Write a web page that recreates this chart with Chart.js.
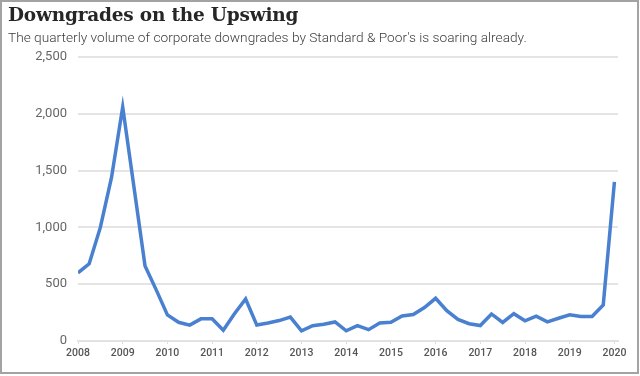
<!DOCTYPE html>
<html>
<head>
<meta charset="utf-8">
<script src="https://cdn.jsdelivr.net/npm/chart.js@4/dist/chart.umd.min.js"></script>
<style>
	body { margin: 0; background: #fff; }
	#card { position: absolute; left: 0; top: 0; width: 635px; height: 370px; border: 2px solid #a3a3a3; }
	#title { position: absolute; left: 8px; top: 5px; font: bold 18.5px/20px 'DejaVu Serif', serif; color: #262626; white-space: nowrap; letter-spacing: -0.2px; }
	#subtitle { position: absolute; left: 8px; top: 28.5px; font: 300 13.7px/16px Roboto, sans-serif; color: #3c3c3c; white-space: nowrap; }
	#wrap { position: absolute; left: 0; top: 0; width: 640px; height: 376px; }
</style>
</head>
<body>
<div id="card"></div>
<div id="wrap"><canvas id="chart"></canvas></div>
<div id="title">Downgrades on the Upswing</div>
<div id="subtitle">The quarterly volume of corporate downgrades by Standard &amp; Poor's is soaring already.</div>
<script>
// quarterly S&P corporate downgrades, 2008 Q1 .. 2020 Q1
const startYear = 2008;
const years = [2008, 2009, 2010, 2011, 2012, 2013, 2014, 2015, 2016, 2017, 2018, 2019, 2020];
const downgrades = [
	600, 680, 1000, 1440,
	2060, 1360, 660, 450,
	230, 165, 140, 195,
	195, 95, 240, 370,
	140, 158, 180, 211,
	90, 135, 148, 168,
	90, 136, 100, 158,
	164, 220, 233, 295,
	376, 267, 190, 152,
	136, 238, 163, 240,
	178, 219, 169, 200,
	230, 215, 215, 317,
	1400
];
const yTicks = [0, 500, 1000, 1500, 2000, 2500];

const points = downgrades.map((v, i) => ({ x: startYear + i / 4, y: v }));

const ctx = document.getElementById('chart');
new Chart(ctx, {
	type: 'line',
	data: {
		datasets: [
			{
				data: points,
				borderColor: '#4a80d0',
				borderWidth: 3.5,
				pointRadius: 0,
				tension: 0,
				fill: false,
			},
		],
	},
	options: {
		responsive: true,
		maintainAspectRatio: false,
		animation: false,
		layout: { padding: { top: 57, right: 22, bottom: 15, left: 0 } },
		plugins: { legend: { display: false }, tooltip: { enabled: false } },
		scales: {
			x: {
				type: 'linear',
				min: 2008,
				max: 2020.08,
				afterBuildTicks: (scale) => {
					scale.ticks = years.map((y) => ({ value: y }));
				},
				afterFit: (scale) => {
					scale.height = 20;
				},
				grid: { drawOnChartArea: false, drawTicks: true, tickLength: 3, color: '#dedede' },
				border: { display: true, color: '#e2e2e2', width: 2 },
				ticks: {
					padding: 3,
					color: '#555',
					font: { family: 'Roboto', size: 10.5, weight: '500' },
					callback: (v) => String(v),
					maxRotation: 0,
				},
			},
			y: {
				min: 0,
				max: 2500,
				afterBuildTicks: (scale) => {
					scale.ticks = yTicks.map((v) => ({ value: v }));
				},
				afterFit: (scale) => {
					scale.width = 78;
				},
				grid: { color: '#e4e4e4', lineWidth: 2, drawTicks: false },
				border: { display: false },
				ticks: {
					padding: 11,
					color: '#666',
					font: { family: 'Roboto', size: 13 },
					callback: (v) => v.toLocaleString('en-US'),
				},
			},
		},
	},
});
</script>
</body>
</html>
